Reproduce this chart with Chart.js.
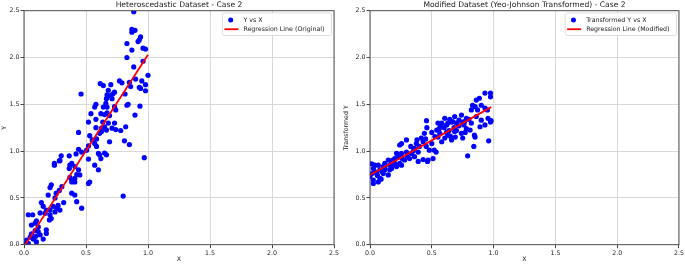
<!DOCTYPE html>
<html>
<head>
<meta charset="utf-8">
<script src="https://cdn.jsdelivr.net/npm/chart.js@4.4.0/dist/chart.umd.min.js"></script>
<style>
  html, body { margin: 0; padding: 0; background: #fff; }
  #wrap { position: relative; width: 685px; height: 264px; }
  .box { position: absolute; top: 0; height: 264px; }
</style>
</head>
<body>
<div id="wrap">
  <div class="box" style="left:0;width:342px"><canvas id="chartA" width="342" height="264"></canvas></div>
  <div class="box" style="left:342px;width:343px"><canvas id="chartB" width="343" height="264"></canvas></div>
</div>
<script>
// ticks shared by both panels
const xTicks = [0, 0.5, 1.0, 1.5, 2.0, 2.5];
const yTicks = [0, 0.5, 1.0, 1.5, 2.0, 2.5];

// left panel: original heteroscedastic data
const origX = [0.885, 0.87, 0.895, 0.87, 0.94, 0.93, 0.92, 0.83, 0.87, 0.96, 0.98, 0.83, 0.96, 0.885, 1.00, 0.90, 0.95,
  0.615, 0.64, 0.70, 0.77, 0.79, 0.85, 0.86, 0.93, 0.94, 0.98, 0.98, 0.46, 0.67, 0.69, 0.715, 0.68, 0.73, 0.665, 0.71,
  0.58, 0.57, 0.66, 0.64, 0.67, 0.83, 0.84, 0.935, 0.815, 0.74, 0.73, 0.54, 0.62, 0.65, 0.67, 0.69, 0.895, 0.58, 0.52,
  0.635, 0.68, 0.73, 0.58, 0.625, 0.65, 0.665, 0.71, 0.74, 0.78, 0.82, 0.61, 0.625, 0.44, 0.53, 0.55, 0.585, 0.69, 0.81,
  0.85, 0.57, 0.585, 0.52, 0.505, 0.44, 0.465, 0.42, 0.60, 0.61, 0.62, 0.65, 0.665, 0.97, 0.52, 0.30, 0.365, 0.285, 0.245,
  0.385, 0.245, 0.29, 0.37, 0.365, 0.41, 0.44, 0.45, 0.41, 0.385, 0.57, 0.60, 0.53, 0.52, 0.22, 0.21, 0.195, 0.26, 0.285,
  0.305, 0.80, 0.385, 0.41, 0.425, 0.465, 0.25, 0.32, 0.275, 0.235, 0.265, 0.29, 0.14, 0.155, 0.18, 0.13, 0.17, 0.21,
  0.22, 0.205, 0.10, 0.035, 0.07, 0.06, 0.09, 0.115, 0.09, 0.115, 0.18, 0.18, 0.13, 0.06, 0.05, 0.075, 0.155, 0.02,
  0.01, 0.035, 0.10, 0.095, 0.37, 0.385, 0.425, 0.41, 0.25, 0.21];
const origY = [2.49, 2.30, 2.29, 2.27, 2.22, 2.19, 2.17, 2.15, 2.08, 2.10, 2.09, 2.00, 1.96, 1.90, 1.81, 1.77, 1.75,
  1.72, 1.70, 1.71, 1.75, 1.73, 1.735, 1.69, 1.68, 1.67, 1.71, 1.645, 1.61, 1.60, 1.59, 1.61, 1.65, 1.63, 1.56, 1.56,
  1.50, 1.47, 1.51, 1.47, 1.47, 1.49, 1.50, 1.48, 1.61, 1.44, 1.475, 1.40, 1.40, 1.39, 1.41, 1.38, 1.385, 1.34, 1.31,
  1.31, 1.30, 1.30, 1.25, 1.245, 1.26, 1.225, 1.245, 1.23, 1.22, 1.26, 1.19, 1.21, 1.20, 1.165, 1.12, 1.13, 1.10, 1.11,
  1.07, 1.08, 1.05, 1.055, 1.01, 1.02, 0.99, 0.97, 0.975, 0.96, 0.92, 0.98, 0.96, 0.93, 0.915, 0.95, 0.95, 0.895, 0.87,
  0.87, 0.85, 0.90, 0.85, 0.815, 0.835, 0.80, 0.745, 0.71, 0.67, 0.85, 0.80, 0.67, 0.655, 0.64, 0.61, 0.53, 0.55, 0.58,
  0.62, 0.52, 0.55, 0.53, 0.46, 0.39, 0.50, 0.45, 0.42, 0.41, 0.39, 0.37, 0.45, 0.41, 0.37, 0.34, 0.335, 0.32,
  0.28, 0.265, 0.255, 0.32, 0.32, 0.21, 0.23, 0.19, 0.15, 0.14, 0.16, 0.12, 0.105, 0.115, 0.08, 0.06, 0.06, 0.05,
  0.03, 0.015, 0.03, 0.09, 0.72, 0.69, 0.75, 0.67, 0.35, 0.37];

// right panel: Yeo-Johnson transformed data
const modX = [0.93, 0.975, 0.975, 0.86, 0.885, 0.83, 0.85, 0.90, 0.93, 0.95, 0.87, 0.82, 0.457, 0.605, 0.645, 0.685,
  0.74, 0.78, 0.765, 0.67, 0.58, 0.86, 0.90, 0.955, 0.975, 0.62, 0.66, 0.70, 0.75, 0.82, 0.89, 0.93, 0.98, 0.54, 0.565,
  0.63, 0.685, 0.74, 0.81, 0.845, 0.75, 0.66, 0.605, 0.525, 0.96, 0.79, 0.44, 0.415, 0.43, 0.375, 0.36, 0.39, 0.455,
  0.48, 0.52, 0.535, 0.51, 0.47, 0.43, 0.295, 0.255, 0.24, 0.215, 0.255, 0.295, 0.335, 0.36, 0.32, 0.28, 0.23, 0.20,
  0.148, 0.175, 0.12, 0.16, 0.20, 0.24, 0.067, 0.107, 0.04, 0.027, 0.08, 0.12, 0.16, 0.054, 0.107, 0.148, 0.014, 0.0,
  0.027, 0.08, 0.067, 0.027, 0.175, 0.215, 0.255, 0.39, 0.465, 0.84, 0.85, 0.09, 0.014, 0.60, 0.64, 0.72, 0.78, 0.56,
  0.45, 0.50, 0.55, 0.58, 0.62, 0.68, 0.70, 0.72, 0.76, 0.80, 0.57, 0.50, 0.46, 0.40, 0.35, 0.30, 0.26, 0.18, 0.12,
  0.10, 0.06, 0.04, 0.19, 0.33, 0.38, 0.65, 0.69, 0.63, 0.55, 0.77];
const modY = [1.62, 1.62, 1.58, 1.545, 1.565, 1.49, 1.475, 1.49, 1.46, 1.44, 1.44, 1.44, 1.325, 1.35, 1.34, 1.37,
  1.385, 1.35, 1.315, 1.315, 1.30, 1.37, 1.33, 1.35, 1.31, 1.28, 1.31, 1.30, 1.31, 1.30, 1.26, 1.28, 1.325, 1.225, 1.19,
  1.17, 1.21, 1.19, 1.225, 1.17, 1.14, 1.12, 1.14, 1.155, 1.11, 0.95, 1.19, 1.14, 1.10, 1.08, 1.03, 0.99, 1.05,
  1.01, 1.01, 0.99, 0.92, 0.905, 0.91, 1.12, 1.08, 1.065, 0.975, 0.975, 0.99, 0.975, 0.94, 0.92, 0.905, 0.94, 0.92,
  0.905, 0.885, 0.87, 0.85, 0.87, 0.87, 0.85, 0.835, 0.85, 0.815, 0.80, 0.80, 0.80, 0.76, 0.76, 0.745, 0.76, 0.73,
  0.69, 0.71, 0.67, 0.655, 0.815, 0.835, 0.85, 0.89, 0.89, 1.05, 1.15, 0.70, 0.865, 1.25, 1.22, 1.27, 1.24, 1.24,
  1.13, 1.08, 1.15, 1.10, 1.20, 1.25, 1.22, 1.33, 1.28, 1.34, 1.27, 1.20, 1.25, 1.05, 1.00, 0.95, 0.92, 0.90, 0.82,
  0.78, 0.74, 0.78, 0.86, 1.05, 1.12, 1.16, 1.15, 1.30, 1.30, 1.20];

// fitted regression lines (slope, intercept)
const origFit = [2.05, -0.02];
const modFit = [0.74, 0.745];

const font = 'DejaVu Sans';
const txtColor = '#222';

// matplotlib style legend + full spine box
const mplFrame = {
  id: 'mplFrame',
  afterDraw(chart, args, opts) {
    const ctx = chart.ctx, a = chart.chartArea;
    ctx.save();
    ctx.strokeStyle = '#444';
    ctx.lineWidth = 0.9;
    ctx.strokeRect(a.left, a.top, a.right - a.left, a.bottom - a.top);

    ctx.font = '6.3px "' + font + '"';
    const tw = Math.max(...opts.items.map(it => ctx.measureText(it.label).width));
    const w = 2 + 14 + 5 + tw + 7;
    const h = 22.6;
    const x0 = a.right - 2.5 - w, y0 = a.top + 2.2;
    ctx.fillStyle = 'rgba(255,255,255,0.85)';
    ctx.strokeStyle = '#d4d4d4';
    ctx.lineWidth = 0.8;
    ctx.beginPath();
    ctx.roundRect(x0, y0, w, h, 2);
    ctx.fill();
    ctx.stroke();
    opts.items.forEach((it, i) => {
      const cy = y0 + 7 + i * 9.3;
      if (it.kind === 'dot') {
        ctx.fillStyle = it.color;
        ctx.beginPath();
        ctx.arc(x0 + 8.3, cy, 2.5, 0, Math.PI * 2);
        ctx.fill();
      } else {
        ctx.strokeStyle = it.color;
        ctx.lineWidth = 1.8;
        ctx.beginPath();
        ctx.moveTo(x0 + 2, cy);
        ctx.lineTo(x0 + 16, cy);
        ctx.stroke();
      }
      ctx.fillStyle = txtColor;
      ctx.textBaseline = 'middle';
      ctx.textAlign = 'left';
      ctx.fillText(it.label, x0 + 21, cy);
    });
    ctx.restore();
  }
};

const makeChart = (id, xs, ys, fit, cfg) => {
  const pts = xs.map((x, i) => ({x: x, y: ys[i]}));
  const xmin = Math.min(...xs), xmax = Math.max(...xs);
  const line = [xmin, xmax].map(x => ({x: x, y: fit[0] * x + fit[1]}));
  const tickFont = {family: font, size: 6.3};

  return new Chart(document.getElementById(id), {
    type: 'scatter',
    data: {
      datasets: [
        {type: 'line', label: cfg.lineLabel, data: line, borderColor: '#ff0000', borderWidth: 1.8,
          pointRadius: 0, order: 0},
        {label: cfg.dotLabel, data: pts, backgroundColor: '#0000ff', borderWidth: 0, pointRadius: 2.6, order: 1}
      ]
    },
    options: {
      responsive: false,
      animation: false,
      layout: {padding: {left: cfg.padLeft, right: cfg.padRight, top: 0.3, bottom: 0}},
      plugins: {
        legend: {display: false},
        tooltip: {enabled: false},
        title: {
          display: true, text: cfg.title, fullSize: false, color: txtColor,
          font: {family: font, size: 7.6, weight: 'normal'}, padding: {top: 0, bottom: 1.3}
        },
        mplFrame: {items: [
          {kind: 'dot', color: '#0000ff', label: cfg.dotLabel},
          {kind: 'line', color: '#ff0000', label: cfg.lineLabel}
        ]}
      },
      scales: {
        x: {
          type: 'linear', min: 0, max: 2.5,
          afterBuildTicks: s => { s.ticks = xTicks.map(v => ({value: v})); },
          ticks: {callback: v => v.toFixed(1), font: tickFont, color: txtColor, padding: 1, maxRotation: 0},
          grid: {color: '#d8d8d8', lineWidth: 1, tickColor: '#444', tickLength: 3.5},
          border: {display: false},
          title: {display: true, text: 'X', font: tickFont, color: txtColor, padding: {top: 0, bottom: 0.5}},
          afterFit: s => { s.height = 19.3; }
        },
        y: {
          type: 'linear', min: 0, max: 2.5,
          afterBuildTicks: s => { s.ticks = yTicks.map(v => ({value: v})); },
          ticks: {callback: v => v.toFixed(1), font: tickFont, color: txtColor, padding: 1},
          grid: {color: '#d8d8d8', lineWidth: 1, tickColor: '#444', tickLength: 3.5},
          border: {display: false},
          title: {display: true, text: cfg.yTitle, font: tickFont, color: txtColor, padding: {top: 0.5, bottom: 0}},
          afterFit: s => { s.width = cfg.yWidth; }
        }
      }
    },
    plugins: [mplFrame]
  });
};

makeChart('chartA', origX, origY, origFit, {
  title: 'Heteroscedastic Dataset - Case 2', yTitle: 'Y',
  dotLabel: 'Y vs X', lineLabel: 'Regression Line (Original)',
  yWidth: 24, padLeft: 0, padRight: 8
});
makeChart('chartB', modX, modY, modFit, {
  title: 'Modified Dataset (Yeo-Johnson Transformed) - Case 2', yTitle: 'Transformed Y',
  dotLabel: 'Transformed Y vs X', lineLabel: 'Regression Line (Modified)',
  yWidth: 28, padLeft: 0, padRight: 5
});
</script>
</body>
</html>
